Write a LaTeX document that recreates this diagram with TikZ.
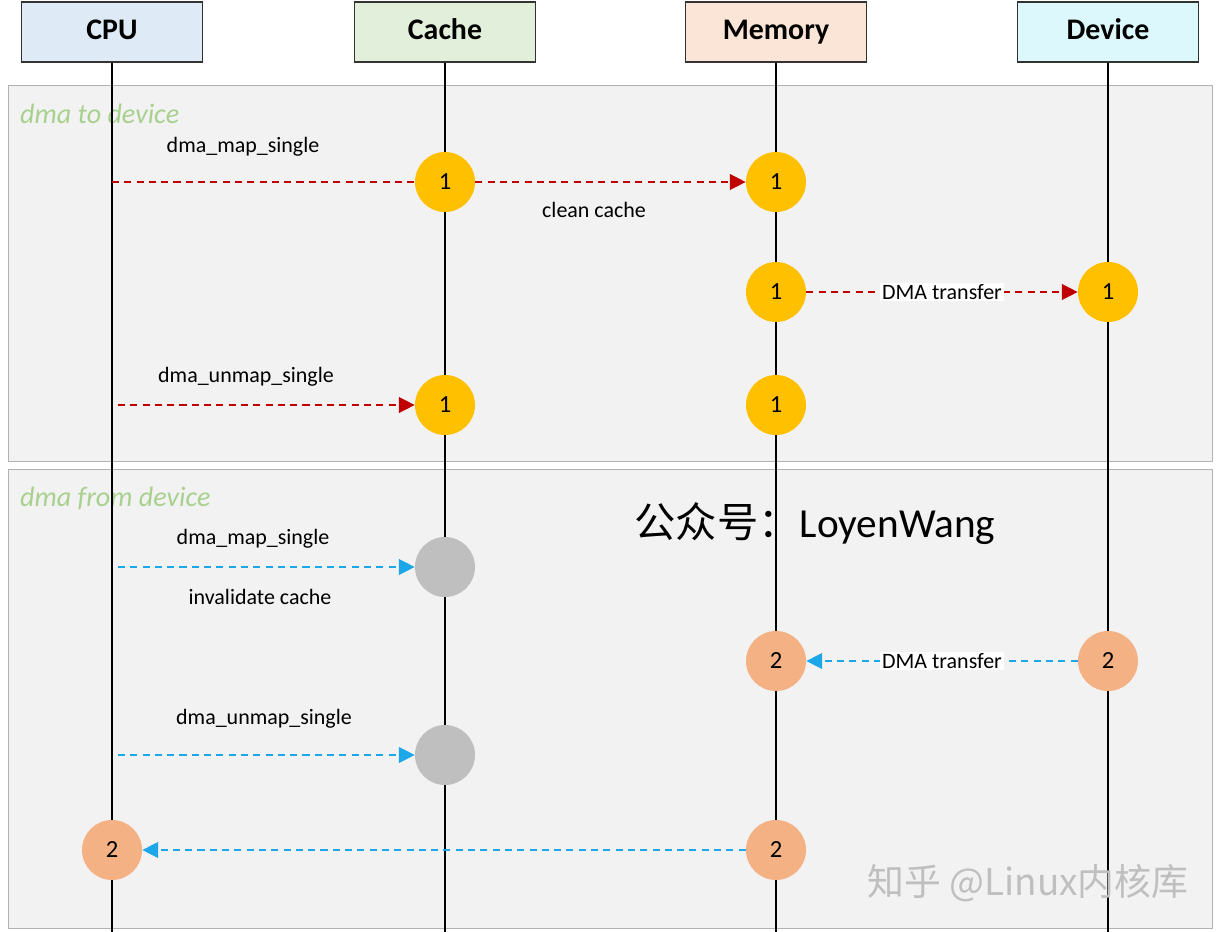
\documentclass[tikz,border=0pt]{standalone}
\usepackage{fontspec}
\setmainfont{Carlito}
\newfontfamily\cjk{Noto Sans CJK SC}
\usetikzlibrary{arrows.meta}
\definecolor{cpuC}{HTML}{DEEBF7}
\definecolor{cacheC}{HTML}{E2EFDA}
\definecolor{memC}{HTML}{FBE5D6}
\definecolor{devC}{HTML}{DDF8FC}
\definecolor{panelC}{HTML}{F2F2F3}
\definecolor{yelC}{HTML}{FFC000}
\definecolor{orgC}{HTML}{F4B183}
\definecolor{gryC}{HTML}{BFBFBF}
\definecolor{redA}{HTML}{C00000}
\definecolor{blueA}{HTML}{1CA7E8}
\definecolor{secC}{HTML}{A9D18E}
\tikzset{
  head/.style={draw=black!80,thick,minimum width=3.62cm,minimum height=1.2cm,text height=8pt,text depth=0pt,font=\fontsize{17}{17}\selectfont\bfseries},
  dot/.style={circle,minimum size=1.2cm,inner sep=0pt,font=\fontsize{14}{14}\selectfont},
  yel/.style={dot,fill=yelC},
  org/.style={dot,fill=orgC},
  gry/.style={dot,fill=gryC},
  msg/.style={font=\fontsize{12.5}{12.5}\selectfont},
  red msg/.style={draw=redA,thick,dash pattern=on 4pt off 3pt},
  blue msg/.style={draw=blueA,thick,dash pattern=on 4pt off 3pt},
  sec/.style={font=\fontsize{16}{16}\selectfont\itshape,text=secC,anchor=west},
}
\begin{document}
\begin{tikzpicture}[x=0.02cm,y=-0.02cm]
\useasboundingbox (0,0) rectangle (1216,932);
% panels
\draw[black!30,fill=panelC] (8,85) rectangle (1212,461);
\draw[black!30,fill=panelC] (8,469) rectangle (1212,928);
\node[sec] (secA) at (14,114) {dma to device};
\node[sec] (secB) at (14,498) {dma from device};
% heads
\node[head,fill=cpuC] (cpu) at (112,32) {CPU};
\node[head,fill=cacheC] (cache) at (445,32) {Cache};
\node[head,fill=memC] (mem) at (776,32) {Memory};
\node[head,fill=devC] (dev) at (1108,32) {Device};
\foreach \h/\x in {cpu/112,cache/445,mem/776,dev/1108}
  \draw[thick] (\h.south) -- (\x,932);
% dma to device
\node[yel] (c1) at (445,182) {1};
\node[yel] (m1) at (776,182) {1};
\node[yel] (m2) at (776,292) {1};
\node[yel] (d2) at (1108,292) {1};
\node[yel] (c3) at (445,405) {1};
\node[yel] (m3) at (776,405) {1};
\coordinate (p1) at (112,182);
\coordinate (p3) at (118,405);
\draw[red msg] (p1) -- (c1.west);
\draw[red msg,-{Triangle[length=9pt,width=9pt]}] (c1.east) -- (m1.west);
\draw[red msg,-{Triangle[length=9pt,width=9pt]}] (m2.east) -- (d2.west)
  node[msg,midway,fill=white,inner sep=1pt] {DMA transfer};
\draw[red msg,-{Triangle[length=9pt,width=9pt]}] (p3) -- (c3.west);
\node[msg] (t1) at (243,147) {dma\_map\_single};
\node[msg] (t2) at (594,210) {clean cache};
\node[msg] (t3) at (246,377) {dma\_unmap\_single};
% dma from device
\node[gry] (c4) at (445,567) {};
\node[org] (m5) at (776,661) {2};
\node[org] (d5) at (1108,661) {2};
\node[gry] (c6) at (445,755) {};
\node[org] (m7) at (776,850) {2};
\node[org] (p7) at (112,850) {2};
\coordinate (p4) at (118,567);
\coordinate (p6) at (118,755);
\draw[blue msg,-{Triangle[length=9pt,width=9pt]}] (p4) -- (c4.west);
\draw[blue msg,-{Triangle[length=9pt,width=9pt]}] (d5.west) -- (m5.east)
  node[msg,midway,fill=white,inner sep=1pt] {DMA transfer};
\draw[blue msg,-{Triangle[length=9pt,width=9pt]}] (p6) -- (c6.west);
\draw[blue msg,-{Triangle[length=9pt,width=9pt]}] (m7.west) -- (p7.east);
\node[msg] (t4) at (253,539) {dma\_map\_single};
\node[msg] (t5) at (260,597) {invalidate cache};
\node[msg] (t6) at (264,719) {dma\_unmap\_single};
% marks
\node[font=\fontsize{23.5}{23.5}\selectfont] (wm) at (815,524) {{\cjk 公众号：}LoyenWang};
\node[font=\fontsize{21}{21}\selectfont\cjk,text=black!25] (zh) at (1028,883) {知乎 @Linux内核库};
\end{tikzpicture}
\end{document}
